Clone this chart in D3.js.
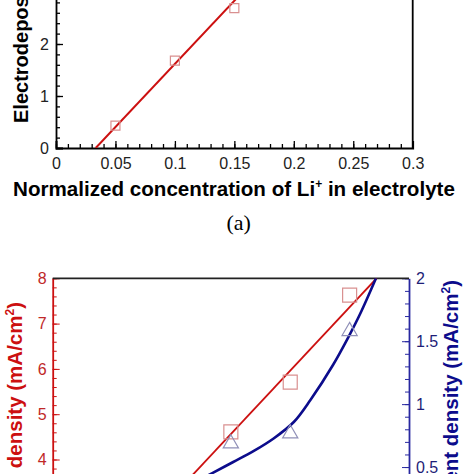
<!DOCTYPE html>
<html>
<head>
<meta charset="utf-8">
<script src="https://cdn.jsdelivr.net/npm/d3@7"></script>
<style>
  body { margin: 0; background: #fff; }
  svg { display: block; font-family: "Liberation Sans", Arial, sans-serif; }
</style>
</head>
<body>
<svg id="chart" width="474" height="474"></svg>
<script>
// ---- data (a) ----
const concA = [0.05, 0.1, 0.15];
const rateA = [0.43, 1.68, 2.69];
const fitAX = [0.0334, 0.18];
const fitAY = [0, 3.56];
const xTicksA = [0, 0.05, 0.1, 0.15, 0.2, 0.25, 0.3];
const yTicksA = [0, 1, 2, 3];

// ---- data (b) ----
const concB = [0.15, 0.2, 0.25];
const leftB = [4.61, 5.71, 7.63];
const rightB = [0.687, 0.767, 1.58];
const fitLeftX = [0.1, 0.2727];
const fitLeftY = [3.16, 8];
const curveX = [0.12, 0.134, 0.152, 0.169, 0.186, 0.203, 0.217, 0.236, 0.249, 0.259, 0.2722];
const curveY = [0.381, 0.45, 0.54, 0.626, 0.727, 0.858, 1.033, 1.311, 1.533, 1.72, 2.0];
const leftTicksB = [3, 4, 5, 6, 7, 8];
const rightTicksB = [0.5, 1, 1.5, 2];

const svg = d3.select("#chart");
const red = "#cc1010";
const navy = "#0c0c8c";
const fmt = d3.format("~g");

// ========== chart (a) ==========
const xA = d3.scaleLinear().domain([0, 0.3]).range([56, 412.7]);
const yA = d3.scaleLinear().domain([0, 3.5]).range([148, 148 - 3.5 * 52]);

svg.append("clipPath").attr("id", "clipA")
  .append("rect")
  .attr("x", xA(0)).attr("y", yA(3.5))
  .attr("width", xA(0.3) - xA(0)).attr("height", yA(0) - yA(3.5));

const gA = svg.append("g");

// minor ticks
gA.append("g")
  .attr("transform", `translate(0, ${yA(0)})`)
  .call(d3.axisBottom(xA).tickValues(d3.range(0, 0.3001, 0.01)).tickSize(-4).tickFormat(""))
  .call(g => g.select(".domain").remove());
gA.append("g")
  .attr("transform", `translate(${xA(0)}, 0)`)
  .call(d3.axisLeft(yA).tickValues(d3.range(0, 3.5001, 0.2)).tickSize(-4).tickFormat(""))
  .call(g => g.select(".domain").remove());

const axA = gA.append("g")
  .attr("transform", `translate(0, ${yA(0)})`)
  .call(d3.axisBottom(xA).tickValues(xTicksA).tickSize(-7).tickPadding(10).tickFormat(fmt));
axA.selectAll("text").attr("font-size", 16).attr("fill", "#222");

const ayA = gA.append("g")
  .attr("transform", `translate(${xA(0)}, 0)`)
  .call(d3.axisLeft(yA).tickValues(yTicksA).tickSize(-7).tickPadding(7).tickFormat(fmt));
ayA.selectAll("text").attr("font-size", 16).attr("fill", "#222");

gA.selectAll(".domain").attr("stroke-width", 1.8);
gA.selectAll(".tick line").attr("stroke-width", 1.3);

// right border
gA.append("line")
  .attr("x1", xA(0.3)).attr("x2", xA(0.3))
  .attr("y1", yA(0)).attr("y2", yA(3.5))
  .attr("stroke", "#000").attr("stroke-width", 1.8);

gA.append("path")
  .datum(d3.zip(fitAX, fitAY))
  .attr("clip-path", "url(#clipA)")
  .attr("d", d3.line().x(d => xA(d[0])).y(d => yA(d[1])))
  .attr("fill", "none").attr("stroke", red).attr("stroke-width", 2);

gA.selectAll(".sqA")
  .data(d3.zip(concA, rateA))
  .join("path")
  .attr("class", "sqA")
  .attr("transform", d => `translate(${xA(d[0])}, ${yA(d[1])})`)
  .attr("d", d3.symbol(d3.symbolSquare, 81))
  .attr("fill", "none").attr("stroke", "#d99090").attr("stroke-width", 1.2);

// y label (cut off at top)
svg.append("text")
  .attr("transform", "translate(28, 123) rotate(-90)")
  .attr("font-size", 20).attr("font-weight", "bold")
  .text("Electrodeposition rate");

const xlab = svg.append("text")
  .attr("x", 234).attr("y", 196)
  .attr("text-anchor", "middle")
  .attr("font-size", 20.6).attr("font-weight", "bold");
xlab.append("tspan").text("Normalized concentration of Li");
xlab.append("tspan").attr("dy", -8).attr("font-size", 12).text("+");
xlab.append("tspan").attr("dy", 8).text(" in electrolyte");

svg.append("text")
  .attr("x", 238.7).attr("y", 230)
  .attr("text-anchor", "middle")
  .attr("font-family", "'Liberation Serif', 'Times New Roman', serif")
  .attr("font-size", 22)
  .text("(a)");

// ========== chart (b) ==========
const topB = 278.3;
const bottomB = topB + 5 * 45.3;
const xB = d3.scaleLinear().domain([0, 0.3]).range([52.7, 409]);
const yL = d3.scaleLinear().domain([3, 8]).range([bottomB, topB]);
const yR = d3.scaleLinear().domain([0.2, 2]).range([bottomB, topB]);

svg.append("clipPath").attr("id", "clipB")
  .append("rect")
  .attr("x", xB(0)).attr("y", topB)
  .attr("width", xB(0.3) - xB(0)).attr("height", bottomB - topB);

const gB = svg.append("g");

// left axis (red)
gB.append("g")
  .attr("transform", `translate(${xB(0)}, 0)`)
  .call(d3.axisLeft(yL).tickValues(d3.range(3, 8.001, 0.2)).tickSize(-4).tickFormat(""))
  .call(g => g.select(".domain").remove())
  .selectAll("line").attr("stroke", red);
const ayL = gB.append("g")
  .attr("transform", `translate(${xB(0)}, 0)`)
  .call(d3.axisLeft(yL).tickValues(leftTicksB).tickSize(-7).tickPadding(6).tickSizeOuter(0).tickFormat(fmt));
ayL.selectAll("line, path").attr("stroke", red);
ayL.select(".domain").attr("stroke-width", 1.8);
ayL.selectAll("text").attr("font-size", 16).attr("fill", "#c02828");

// right axis (blue)
gB.append("g")
  .attr("transform", `translate(${xB(0.3)}, 0)`)
  .call(d3.axisRight(yR).tickValues(d3.range(0.2, 2.001, 0.1)).tickSize(-4).tickFormat(""))
  .call(g => g.select(".domain").remove())
  .selectAll("line").attr("stroke", "#2828a0");
const ayR = gB.append("g")
  .attr("transform", `translate(${xB(0.3)}, 0)`)
  .call(d3.axisRight(yR).tickValues(rightTicksB).tickSize(-7).tickPadding(7).tickSizeOuter(0).tickFormat(fmt));
ayR.selectAll("line, path").attr("stroke", "#2828a0");
ayR.select(".domain").attr("stroke-width", 1.8);
ayR.selectAll("text").attr("font-size", 16).attr("fill", "#1e1e78");

// top border
gB.append("line")
  .attr("x1", xB(0)).attr("x2", xB(0.3))
  .attr("y1", topB).attr("y2", topB)
  .attr("stroke", "#222").attr("stroke-width", 1.8);

gB.append("path")
  .datum(d3.zip(fitLeftX, fitLeftY))
  .attr("clip-path", "url(#clipB)")
  .attr("d", d3.line().x(d => xB(d[0])).y(d => yL(d[1])))
  .attr("fill", "none").attr("stroke", red).attr("stroke-width", 1.8);

gB.append("path")
  .datum(d3.zip(curveX, curveY))
  .attr("clip-path", "url(#clipB)")
  .attr("d", d3.line().curve(d3.curveCatmullRom).x(d => xB(d[0])).y(d => yR(d[1])))
  .attr("fill", "none").attr("stroke", navy).attr("stroke-width", 2.6);

gB.selectAll(".sqB")
  .data(d3.zip(concB, leftB))
  .join("path")
  .attr("class", "sqB")
  .attr("transform", d => `translate(${xB(d[0])}, ${yL(d[1])})`)
  .attr("d", d3.symbol(d3.symbolSquare, 196))
  .attr("fill", "none").attr("stroke", "#d99090").attr("stroke-width", 1.2);

gB.selectAll(".trB")
  .data(d3.zip(concB, rightB))
  .join("path")
  .attr("class", "trB")
  .attr("transform", d => `translate(${xB(d[0])}, ${yR(d[1])})`)
  .attr("d", d3.symbol(d3.symbolTriangle, 100))
  .attr("fill", "none").attr("stroke", "#9090b8").attr("stroke-width", 1.2);

// axis titles (cut off at bottom)
const labL = svg.append("text")
  .attr("transform", "translate(22, 302) rotate(-90)")
  .attr("text-anchor", "end")
  .attr("font-size", 20.5).attr("font-weight", "bold").attr("fill", red);
labL.append("tspan").text("Current density (mA/cm");
labL.append("tspan").attr("dy", -8).attr("font-size", 12).text("2");
labL.append("tspan").attr("dy", 8).text(")");

const labR = svg.append("text")
  .attr("transform", "translate(458, 280) rotate(-90)")
  .attr("text-anchor", "end")
  .attr("font-size", 20.5).attr("font-weight", "bold").attr("fill", navy);
labR.append("tspan").text("Current density (mA/cm");
labR.append("tspan").attr("dy", -8).attr("font-size", 12).text("2");
labR.append("tspan").attr("dy", 8).text(")");
</script>
</body>
</html>
